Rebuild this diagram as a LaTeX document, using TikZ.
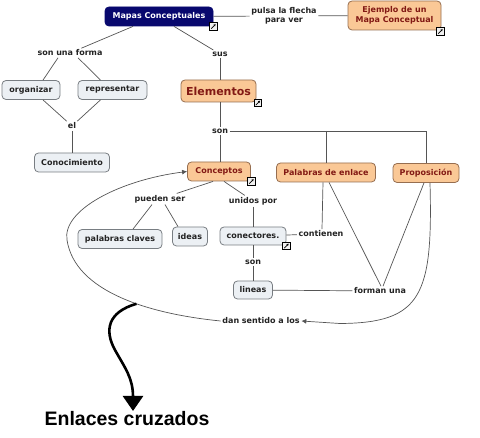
\documentclass[tikz,border=0pt]{standalone}
\usepackage{fontspec}
\setmainfont{DejaVu Sans}
\newfontfamily\arialfont{Liberation Sans}
\usetikzlibrary{arrows.meta}
\definecolor{navy}{RGB}{8,8,110}
\definecolor{peach}{RGB}{250,200,150}
\definecolor{peachdraw}{RGB}{150,110,80}
\definecolor{dred}{RGB}{130,25,20}
\definecolor{lgray}{RGB}{236,240,244}
\definecolor{gdraw}{RGB}{120,125,130}
\definecolor{lnk}{RGB}{85,85,85}
\definecolor{txt}{RGB}{35,35,35}
\tikzset{
  base/.style={rounded corners=4pt, line width=0.8pt, inner xsep=4pt, inner ysep=2pt, minimum height=19pt, font=\bfseries\fontsize{8}{9.5}\selectfont},
  cbox/.style={base, draw=gdraw, fill=lgray, text=txt},
  obox/.style={base, draw=peachdraw, fill=peach, text=dred},
  nbox/.style={base, draw=navy, fill=navy, text=white},
  lbl/.style={inner sep=1.5pt, text=txt, font=\bfseries\fontsize{8}{9.5}\selectfont, align=center},
  lk/.style={draw=lnk, line width=0.7pt},
  ico/.style={draw=black, fill=gray!12, line width=0.5pt, minimum size=7.5pt, inner sep=0pt,
    path picture={\draw[line width=0.7pt,-{Latex[length=2.2pt,width=2.4pt]}] ([shift={(1.6pt,1.6pt)}]path picture bounding box.south west) -- ([shift={(-1.4pt,-1.4pt)}]path picture bounding box.north east);}}
}
\begin{document}
\begin{tikzpicture}[x=1pt,y=-1pt]
\useasboundingbox (0,0) rectangle (480,438);
% nodes
\node[nbox, minimum width=108pt] (mapas) at (159,16.5) {Mapas Conceptuales};
\node[lbl] (pulsa) at (284,16) {pulsa la flecha\\para ver};
\node[obox, align=center, minimum width=93pt, minimum height=29pt, font=\bfseries\fontsize{8}{10.5}\selectfont] (ejemplo) at (394.5,15.5) {Ejemplo de un\\Mapa Conceptual};
\node[lbl] (sonforma) at (70,53) {son una forma};
\node[cbox, minimum width=58pt] (org) at (31,90) {organizar};
\node[cbox, minimum width=69pt] (rep) at (112.5,90) {representar};
\node[lbl] (el) at (72,126) {el};
\node[cbox, minimum width=75pt] (conoc) at (72,162.5) {Conocimiento};
\node[lbl] (sus) at (220,54) {sus};
\node[obox, minimum width=75pt, minimum height=22pt, font=\bfseries\fontsize{11}{12}\selectfont] (elem) at (218.5,91) {Elementos};
\node[lbl] (son) at (220,131) {son};
\node[obox, minimum width=63pt] (concept) at (219,171.5) {Conceptos};
\node[obox, minimum width=99pt] (pal) at (326,172.5) {Palabras de enlace};
\node[obox, minimum width=66pt] (prop) at (426,173) {Proposición};
\node[lbl] (pueden) at (160,199) {pueden ser};
\node[lbl] (unidos) at (253,201) {unidos por};
\node[cbox, minimum width=84pt] (pclaves) at (120,239) {palabras claves};
\node[cbox, minimum width=35pt] (ideas) at (190,236.5) {ideas};
\node[cbox, minimum width=66pt, minimum height=18pt] (conect) at (253,236) {conectores.};
\node[lbl] (contienen) at (321,234) {contienen};
\node[lbl] (son2) at (253,262) {son};
\node[cbox, minimum width=39pt, minimum height=18pt] (lineas) at (253,290) {lineas};
\node[lbl] (forman) at (380,291) {forman una};
\node[lbl] (dan) at (261,321) {dan sentido a los};
\node[font=\arialfont\bfseries\fontsize{19.5}{22}\selectfont, text=black, inner sep=0pt] (enlaces) at (127,419) {Enlaces cruzados};
% icons
\node[ico] (i1) at (mapas.south east) {};
\node[ico] (i2) at ([xshift=-1pt,yshift=-1pt]ejemplo.south east) {};
\node[ico] (i3) at ([xshift=1.5pt,yshift=-0.5pt]elem.south east) {};
\node[ico] (i4) at ([xshift=0.5pt]concept.south east) {};
\node[ico] (i5) at ([yshift=-0.5pt]conect.south east) {};
% links
\draw[lk] (mapas) -- (pulsa) -- (ejemplo);
\draw[lk] ([xshift=-26pt]mapas.south) -- (sonforma);
\draw[lk] ([xshift=-12pt]sonforma.south) -- ([xshift=12pt]org.north);
\draw[lk] ([xshift=8pt]sonforma.south) -- ([xshift=-12pt]rep.north);
\draw[lk] ([xshift=12pt]org.south) -- (el);
\draw[lk] ([xshift=-12pt]rep.south) -- (el);
\draw[lk] (el) -- (conoc);
\draw[lk] ([xshift=15pt]mapas.south) -- (sus);
\draw[lk] (sus) -- (sus |- elem.north);
\draw[lk] (elem.south -| son) -- (son);
\draw[lk] (son) -- (son |- concept.north);
\draw[lk] (son.east) -| (prop.north);
\draw[lk] (son.east -| pal.north) -- (pal.north);
\draw[lk] ([xshift=-6pt]concept.south) -- (pueden);
\draw[lk] ([xshift=-8pt]pueden.south) -- ([xshift=13pt]pclaves.north);
\draw[lk] ([xshift=5pt]pueden.south) -- ([xshift=-12pt]ideas.north);
\draw[lk] ([xshift=5pt]concept.south) -- (unidos);
\draw[lk] (unidos) -- (conect);
\draw[lk] (conect) -- (contienen);
\draw[lk] (conect) -- (son2) -- (lineas);
\draw[lk] (lineas) -- (forman);
\draw[lk] ([xshift=-3pt]pal.south) -- ([xshift=1pt]contienen.north);
\draw[lk] ([xshift=3pt]pal.south) -- ([xshift=1pt]forman.north);
\draw[lk] ([xshift=-2pt]prop.south) -- ([xshift=3pt]forman.north);
\draw[lk, -{Latex[length=5pt,width=5pt]}] ([xshift=4pt]prop.south) .. controls (433,295) and (422,323) .. (340,323.5) -- (dan.east);
\draw[lk, -{Latex[length=5pt,width=5pt]}] (dan.west) .. controls (150,314) and (75,292) .. (67,240) coordinate[pos=0.41] (xs) .. controls (62,210) and (120,180) .. (concept.west);
% thick arrow
\draw[line width=2.6pt, -{Triangle[length=15pt,width=20pt]}] (xs) .. controls (108,312) and (104,330) .. (115,350) .. controls (125,368) and (133,378) .. (133,411);
\end{tikzpicture}
\end{document}
